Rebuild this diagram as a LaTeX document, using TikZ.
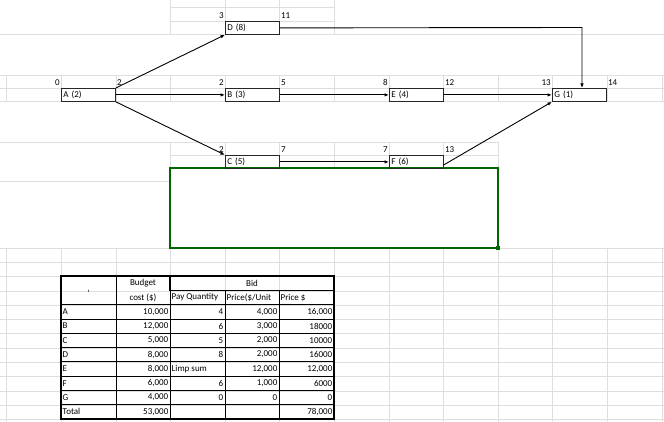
\documentclass[tikz,border=0pt]{standalone}
\usepackage{fontspec}
\setmainfont{Carlito}
\usetikzlibrary{arrows.meta}
\newcommand\trow[6]{%
  \node[tc,anchor=west] (r#1a) at (61,304.6+14.3*#1-7.15) {#2};
  \node[tc,anchor=east] (r#1b) at (170,304.6+14.3*#1-7.15) {#3};
  \node[tc,anchor=east] (r#1c) at (225,304.6+14.3*#1-7.15) {#4};
  \node[tc,anchor=east] (r#1d) at (279,304.6+14.3*#1-7.15) {#5};
  \node[tc,anchor=east] (r#1e) at (334,304.6+14.3*#1-7.15) {#6};}
\begin{document}
\begin{tikzpicture}[x=1pt,y=-1pt,
  grid/.style={draw=black!13,line width=0.8pt},
  act/.style={draw=black!85,line width=0.8pt,minimum width=54pt,minimum height=13pt,inner sep=1.5pt,anchor=north west,text width=50pt,align=left,font=\fontsize{9}{10}\selectfont},
  lbl/.style={inner sep=1pt,font=\fontsize{9}{10}\selectfont},
  arr/.style={draw=black,line width=0.9pt,-{Latex[length=4.5pt,width=3.5pt]}},
  tb/.style={draw=black,line width=1.1pt},
  tc/.style={inner sep=1.5pt,font=\fontsize{9}{10}\selectfont}]
\useasboundingbox (0,0) rectangle (664,422);
\fill[white] (0,0) rectangle (664,422);
% grid upper
\foreach \x in {170,225,279,334} \draw[grid] (\x,0) -- (\x,34);
\foreach \y in {7,21} \draw[grid] (170,\y) -- (334,\y);
\draw[grid] (0,34) -- (664,34);
\foreach \y in {75,88,101} \draw[grid] (0,\y) -- (664,\y);
\foreach \x in {6,61,116,170,225,279,334,389,443,498,552,607,662} \draw[grid] (\x,75) -- (\x,101);
\draw[grid] (0,142) -- (498,142);
\draw[grid] (170,155) -- (498,155);
\foreach \x in {170,225,279,334,389,443,498} \draw[grid] (\x,142) -- (\x,168);
\draw[grid] (0,181) -- (170,181);
% grid lower
\foreach \i in {0,...,12} \draw[grid] (0,248+14.3*\i) -- (664,248+14.3*\i);
\foreach \x in {6,61,116,170,225,279,334,389,443,498,552,607,662} \draw[grid] (\x,248) -- (\x,422);
% green selection
\draw[draw=green!40!black,line width=1.2pt,fill=white] (170,168) rectangle (498,248);
\fill[green!40!black] (496,246) rectangle (500,250);
% activities
\node[act] (A) at (61,88) {A (2)};
\node[act] (D) at (225,21) {D (8)};
\node[act] (B) at (225,88) {B (3)};
\node[act] (C) at (225,155) {C (5)};
\node[act] (E) at (389,88) {E (4)};
\node[act] (F) at (389,155) {F (6)};
\node[act] (G) at (552,88) {G (1)};
% times
\foreach \n/\es/\ef in {A/0/2,D/3/11,B/2/5,C/2/7,E/8/12,F/7/13,G/13/14}{
  \node[lbl,anchor=south east] (\n es) at ([yshift=1pt]\n.north west) {\es};
  \node[lbl,anchor=south west] (\n ef) at ([yshift=1pt]\n.north east) {\ef};
}
% arrows
\draw[arr] (A.north east) -- (D.south west);
\draw[arr] (A.east) -- (B.west);
\draw[arr] (A.south east) -- (C.north west);
\draw[arr] (B.east) -- (E.west);
\draw[arr] (C.east) -- (F.west);
\draw[arr] (E.east) -- (G.west);
\draw[arr] ([yshift=-3pt]F.east) -- (G.south west);
\coordinate (Dc) at (582,27.5);
\draw[arr] (D.east) -- (Dc) -- (G.north -| Dc);
% table
\foreach \i in {2,...,10} \draw[black,line width=0.7pt] (61,276+14.3*\i) -- (334,276+14.3*\i);
\draw[black,line width=0.7pt] (170,290.3) -- (334,290.3);
\draw[black,line width=0.7pt] (116,276) -- (116,419) (170,276) -- (170,419) (225,290.3) -- (225,419) (279,290.3) -- (279,419);
\draw[tb] (61,276) rectangle (334,419);
\draw[tb] (170,276) rectangle (334,290.3);
\node[tc] (h0) at (88.5,293) {`};
\node[tc] (h1) at (143,283.2) {Budget};
\node[tc] (h2) at (143,297.5) {cost (\$)};
\node[tc] (h3) at (252,283.2) {Bid};
\node[tc,anchor=west] (h4) at (170,297.5) {Pay Quantity};
\node[tc,anchor=west] (h5) at (225,297.5) {Price(\$/Unit};
\node[tc,anchor=west] (h6) at (279,297.5) {Price \$};
\trow{1}{A}{10,000}{4}{4,000}{16,000}
\trow{2}{B}{12,000}{6}{3,000}{18000}
\trow{3}{C}{5,000}{5}{2,000}{10000}
\trow{4}{D}{8,000}{8}{2,000}{16000}
\trow{5}{E}{8,000}{}{12,000}{12,000}
\trow{6}{F}{6,000}{6}{1,000}{6000}
\trow{7}{G}{4,000}{0}{0}{0}
\trow{8}{Total}{53,000}{}{}{78,000}
\node[tc,anchor=west] (lump) at (170,368.65) {Limp sum};
\end{tikzpicture}
\end{document}
